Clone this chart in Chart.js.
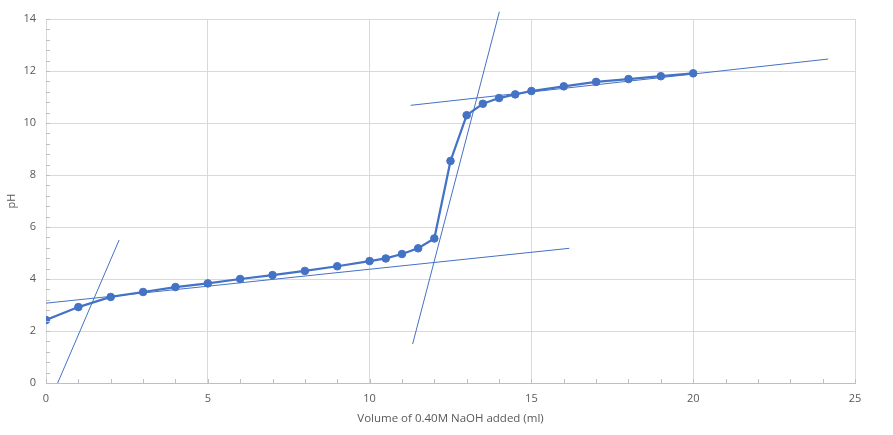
<!DOCTYPE html>
<html>
<head>
<meta charset="utf-8">
<script src="https://cdn.jsdelivr.net/npm/chart.js@4"></script>
<style>
  html, body { margin: 0; padding: 0; background: #fff; }
  #wrap { width: 893px; height: 435px; }
</style>
</head>
<body>
<div id="wrap"><canvas id="myChart"></canvas></div>
<script>
// titration data
var volume = [0, 1, 2, 3, 4, 5, 6, 7, 8, 9, 10, 10.5, 11, 11.5, 12, 12.5, 13, 13.5, 14, 14.5, 15, 16, 17, 18, 19, 20];
var pH = [2.42, 2.92, 3.31, 3.50, 3.69, 3.83, 4.00, 4.15, 4.31, 4.49, 4.69, 4.79, 4.96, 5.18, 5.56, 8.54, 10.30, 10.74, 10.96, 11.10, 11.23, 11.41, 11.58, 11.69, 11.80, 11.91];

// hand drawn tangent lines (start / end)
var tan1X = [0.36, 2.26];   var tan1Y = [0, 5.5];
var tan2X = [0, 16.17];     var tan2Y = [3.07, 5.18];
var tan3X = [11.33, 14.01]; var tan3Y = [1.5, 14.28];
var tan4X = [11.27, 24.17]; var tan4Y = [10.68, 12.46];

var xTicks = [0, 5, 10, 15, 20, 25];
var yTicks = [0, 2, 4, 6, 8, 10, 12, 14];

var blue = "#4472C4";
var txt = "#595959";

function pts(xs, ys) {
    var out = [];
    for (var i = 0; i < xs.length; i++) {
        out.push({x: xs[i], y: ys[i]});
    }
    return out;
}

function tangent(xs, ys) {
    return {
        data: pts(xs, ys),
        borderColor: blue,
        borderWidth: 1,
        pointRadius: 0,
        showLine: true,
        clip: false
    };
}

// small inside tick marks like excel's minor ticks
var minorTicks = {
    id: "minorTicks",
    afterDraw: function (chart) {
        var ctx = chart.ctx;
        var xs = chart.scales.x, ys = chart.scales.y;
        ctx.save();
        ctx.strokeStyle = "#bfbfbf";
        ctx.lineWidth = 1;
        ctx.beginPath();
        for (var v = 0; v <= 25; v++) {
            var px = Math.round(xs.getPixelForValue(v)) + 0.5;
            ctx.moveTo(px, ys.bottom);
            ctx.lineTo(px, ys.bottom - 4);
        }
        for (var k = 0; k <= 35; k++) {
            var py = Math.round(ys.getPixelForValue(k * 0.4)) + 0.5;
            ctx.moveTo(xs.left, py);
            ctx.lineTo(xs.left + 4, py);
        }
        ctx.stroke();
        ctx.restore();
    }
};

Chart.defaults.font.family = "'Open Sans', sans-serif";
Chart.defaults.font.size = 11;
Chart.defaults.color = txt;

var ctx = document.getElementById("myChart").getContext("2d");
var myChart = new Chart(ctx, {
    type: "scatter",
    data: {
        datasets: [
            {
                data: pts(volume, pH),
                borderColor: blue,
                backgroundColor: blue,
                borderWidth: 2.25,
                pointRadius: 3.8,
                pointBorderWidth: 1,
                showLine: true
            },
            tangent(tan1X, tan1Y),
            tangent(tan2X, tan2Y),
            tangent(tan3X, tan3Y),
            tangent(tan4X, tan4Y)
        ]
    },
    plugins: [minorTicks],
    options: {
        responsive: true,
        maintainAspectRatio: false,
        animation: false,
        layout: { padding: { left: 0, top: 19, right: 38, bottom: 0 } },
        plugins: {
            legend: { display: false },
            tooltip: { enabled: false }
        },
        scales: {
            x: {
                type: "linear",
                min: 0, max: 25,
                afterBuildTicks: function (s) { s.ticks = xTicks.map(function (v) { return {value: v}; }); },
                afterFit: function (s) { s.height = 52; },
                grid: { color: "#d9d9d9", drawTicks: false },
                border: { color: "#bfbfbf" },
                ticks: { padding: 9, color: txt },
                title: { display: true, text: "Volume of 0.40M NaOH added (ml)", color: txt, font: { size: 11.5 }, padding: { top: 0, bottom: 9 } }
            },
            y: {
                type: "linear",
                min: 0, max: 14,
                afterBuildTicks: function (s) { s.ticks = yTicks.map(function (v) { return {value: v}; }); },
                afterFit: function (s) { s.width = 46; },
                grid: { color: "#d9d9d9", drawTicks: false },
                border: { color: "#d9d9d9" },
                ticks: { padding: 10, color: txt },
                title: { display: true, text: "pH", color: txt, padding: { top: 5, bottom: 0 } }
            }
        }
    }
});
</script>
</body>
</html>
